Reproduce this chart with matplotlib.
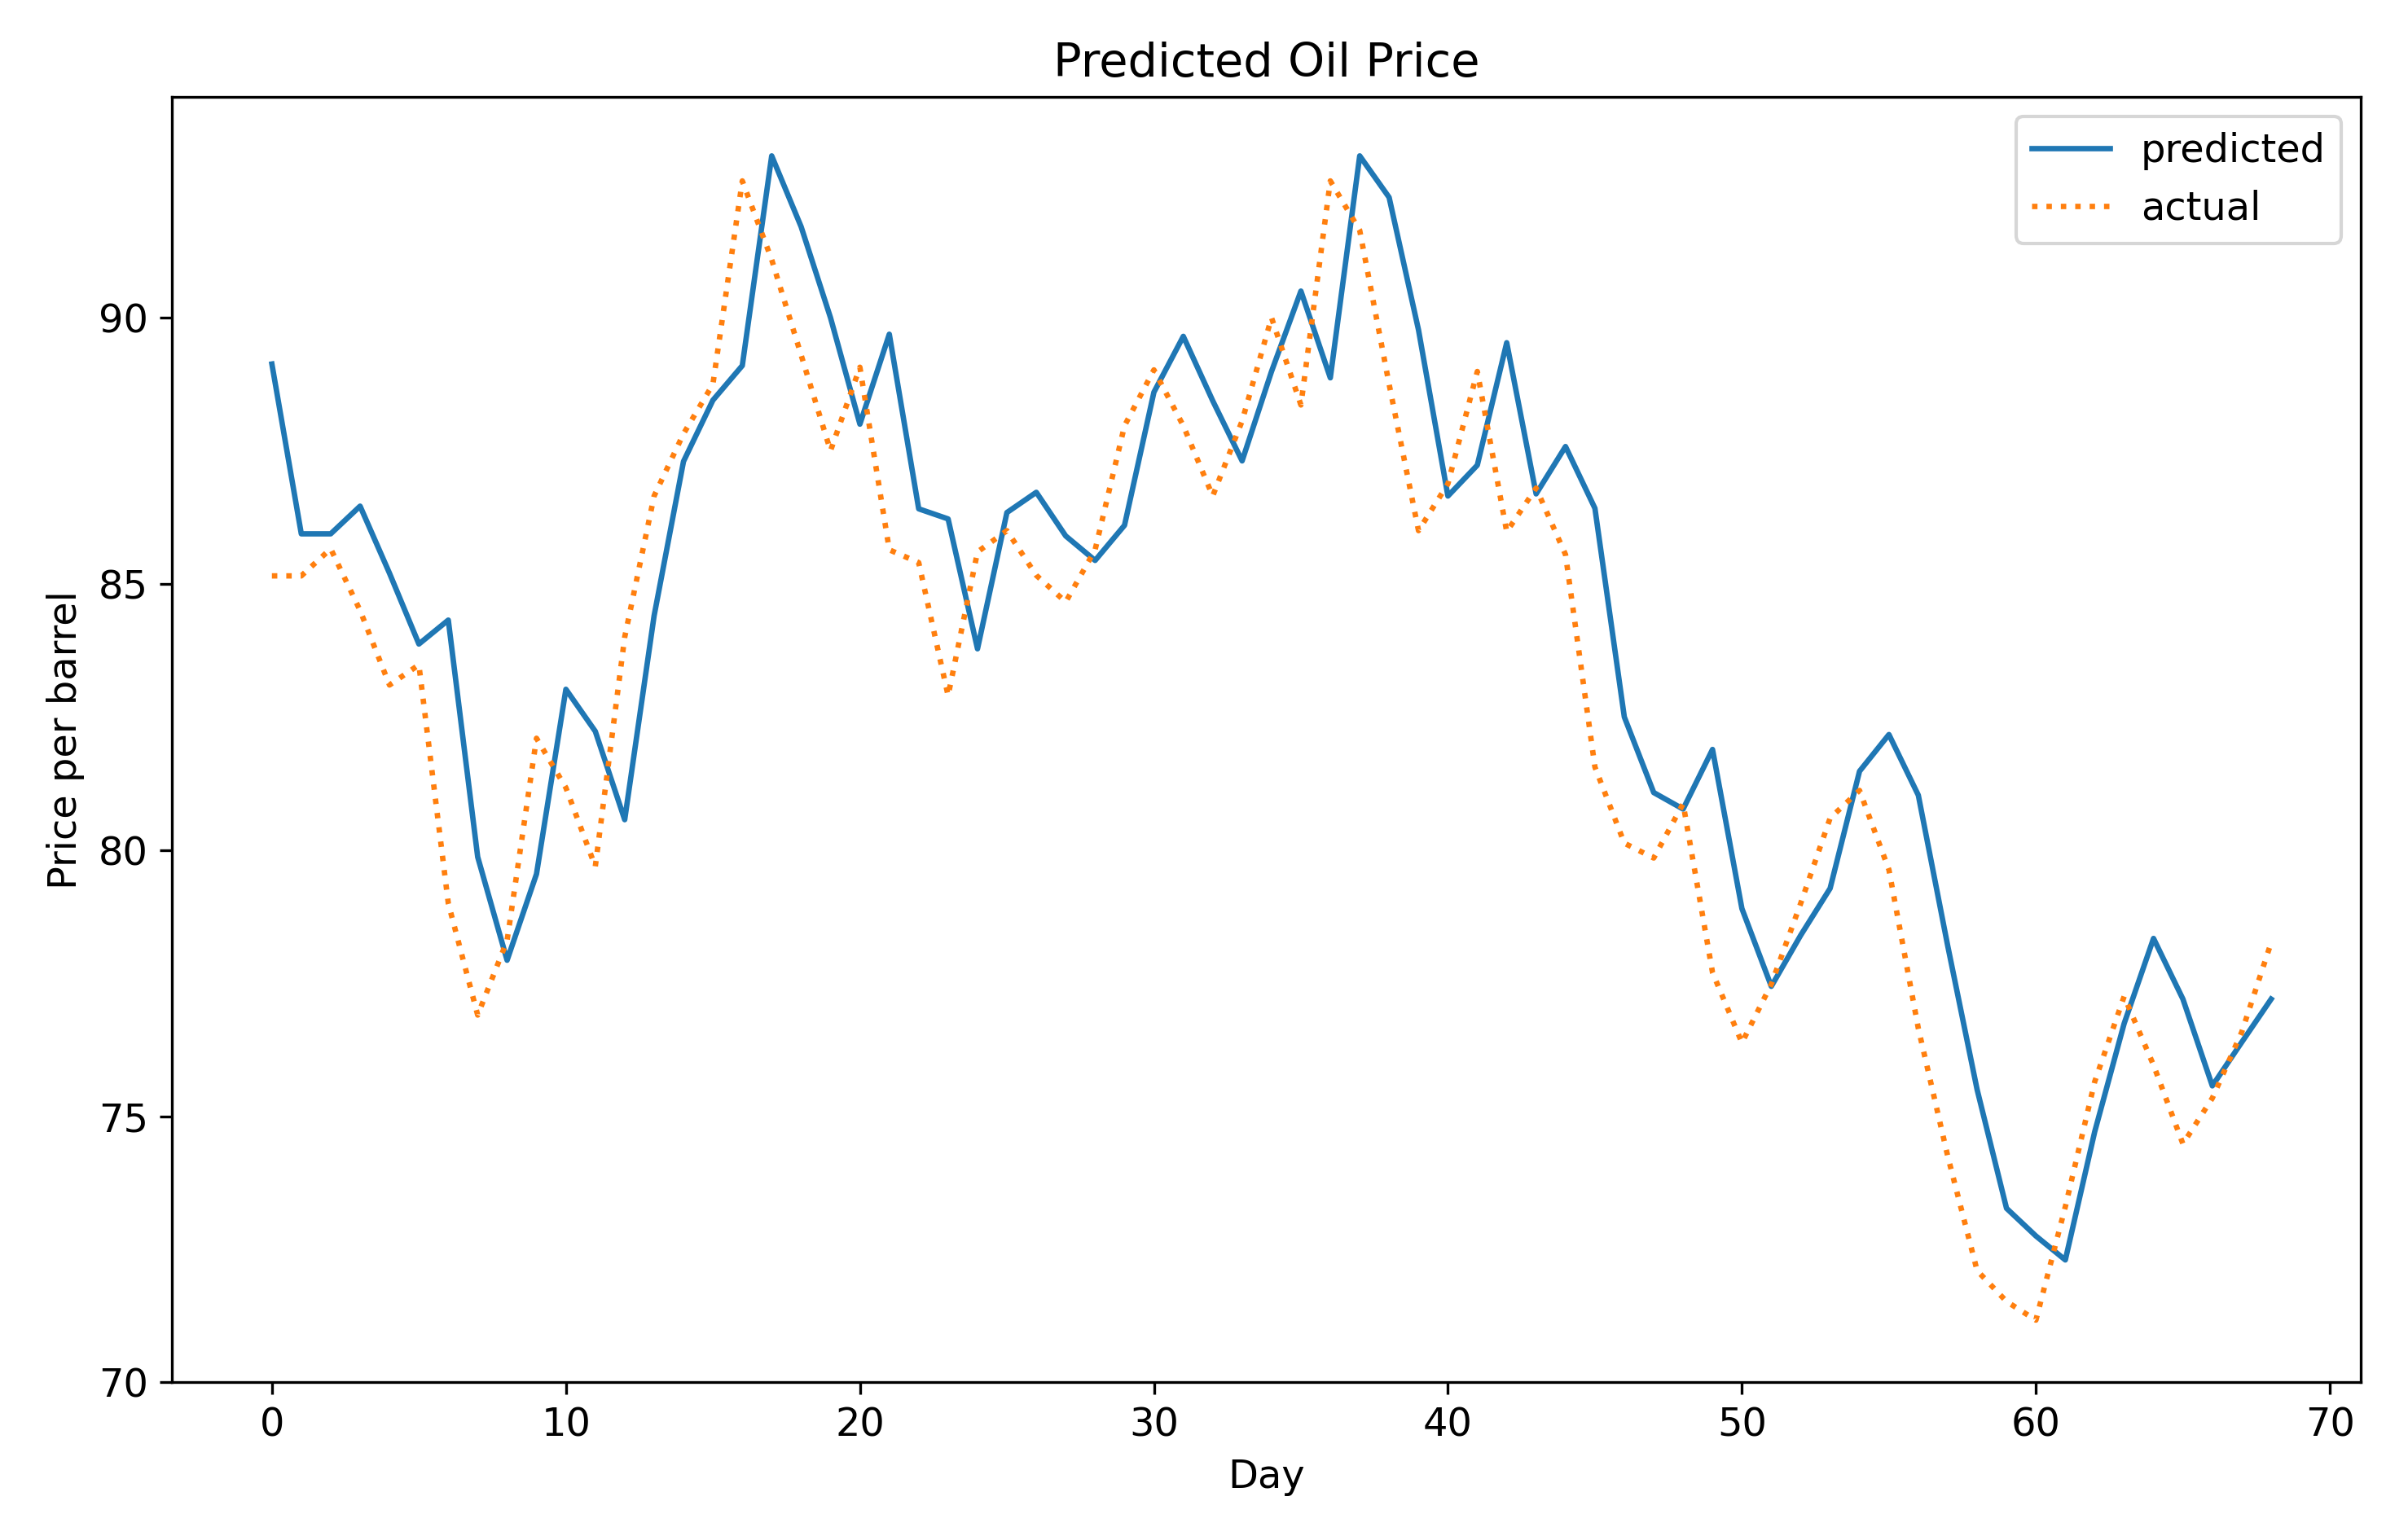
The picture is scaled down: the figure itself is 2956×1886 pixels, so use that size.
import matplotlib
matplotlib.use("Agg")
import matplotlib.pyplot as plt
import numpy as np

days = list(range(69))

predicted = [89.13, 85.94, 85.94, 86.46, 85.2, 83.87, 84.32, 79.87, 77.93, 79.55,
             83.02, 82.23, 80.57, 84.4, 87.3, 88.45, 89.1, 93.04, 91.71, 90.0,
             88.0, 89.69, 86.41, 86.22, 83.78, 86.34, 86.72, 85.9, 85.44, 86.1,
             88.6, 89.65, 88.44, 87.31, 88.99, 90.5, 88.87, 93.04, 92.26, 89.77,
             86.65, 87.23, 89.53, 86.69, 87.58, 86.42, 82.5, 81.08, 80.77, 81.89,
             78.9, 77.44, 78.4, 79.28, 81.48, 82.17, 81.03, 78.2, 75.5, 73.27,
             72.75, 72.3, 74.71, 76.74, 78.34, 77.2, 75.57, 76.39, 77.2]

actual = [85.15, 85.15, 85.66, 84.5, 83.1, 83.48, 79.0, 76.9, 78.3, 82.1,
          81.17, 79.69, 84.0, 86.65, 87.82, 88.75, 92.57, 91.09, 89.3, 87.5,
          89.07, 85.64, 85.4, 82.9, 85.6, 86.0, 85.16, 84.66, 85.64, 87.97,
          89.02, 87.97, 86.65, 88.06, 90.0, 88.36, 92.57, 91.64, 88.75, 86.0,
          86.88, 88.99, 85.98, 86.8, 85.55, 81.56, 80.13, 79.85, 80.87, 77.7,
          76.38, 77.48, 79.0, 80.6, 81.12, 79.63, 76.65, 74.25, 72.1, 71.52,
          71.17, 73.3, 75.65, 77.25, 75.96, 74.48, 75.34, 76.58, 78.26]

plt.rcParams["font.size"] = 11.5

fig = plt.figure(figsize=(2956 / 300, 1886 / 300), dpi=300)
ax = fig.add_axes([0.0714, 0.100, 0.909, 0.837])

ax.plot(days, predicted, color="C0", linestyle="-", linewidth=1.6, label="predicted")
ax.plot(days, actual, color="C1", linestyle=":", linewidth=1.6, label="actual")

ax.set_xlim(-3.4, 71.05)
ax.set_ylim(70, 94.15)
ax.set_title("Predicted Oil Price")
ax.set_xlabel("Day")
ax.set_ylabel("Price per barrel")
ax.legend(loc="upper right")

fig.savefig("out.png", dpi=300)
